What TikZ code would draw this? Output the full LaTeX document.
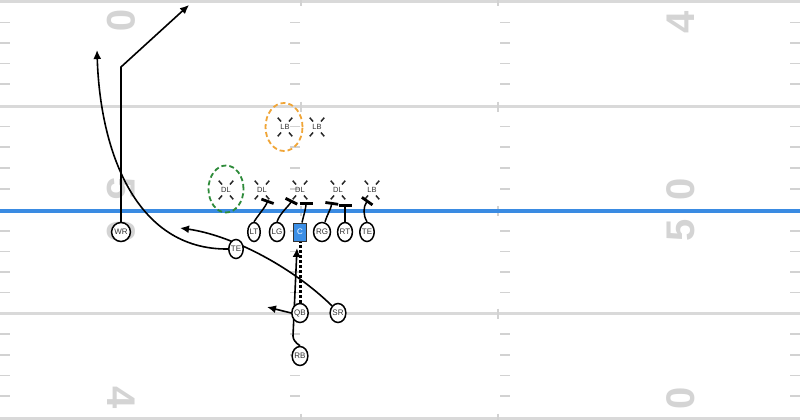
\documentclass[tikz,border=0pt]{standalone}
\usepackage{fontspec}
\setmainfont{Liberation Sans}
\usetikzlibrary{arrows.meta,shapes.geometric}
\definecolor{fieldgray}{HTML}{D9D9D9}
\definecolor{hashgray}{HTML}{D2D2D2}
\definecolor{numgray}{HTML}{D4D4D4}
\definecolor{losblue}{HTML}{3A8BE2}
\definecolor{cblue}{HTML}{3C8FE6}
\definecolor{ringgreen}{HTML}{2E8B3A}
\definecolor{ringorange}{HTML}{F0A537}
\pgfdeclarelayer{back}
\pgfdeclarelayer{mid}
\pgfsetlayers{back,mid,main}
\newcommand\dmark[4]{%
  \node[defl] (#1) at (#2,#3) {#4};
  \draw[xmk] ([shift={(-4,-5.5)}]#1.center) -- ++(-3.2,-3.8);
  \draw[xmk] ([shift={(4,-5.5)}]#1.center) -- ++(3.2,-3.8);
  \draw[xmk] ([shift={(-4,5.5)}]#1.center) -- ++(-3.2,3.8);
  \draw[xmk] ([shift={(4,5.5)}]#1.center) -- ++(3.2,3.8);
}
\begin{document}
\begin{tikzpicture}[x=1pt,y=-1pt,
  yard/.style={line width=3pt, draw=fieldgray},
  hashmk/.style={line width=1.8pt, draw=hashgray},
  numdig/.style={text=numgray, font=\fontsize{40}{40}\selectfont\bfseries, inner sep=0pt},
  offpl/.style={ellipse, draw=black, line width=1.5pt, fill=white, minimum width=12.5pt, minimum height=19pt, inner sep=0pt, font=\fontsize{8}{9}\selectfont, text=black!80},
  cpl/.style={rectangle, draw=black!80, fill=cblue, line width=0.8pt, minimum width=13pt, minimum height=18pt, inner sep=0pt, font=\fontsize{8}{9}\selectfont, text=white},
  defl/.style={inner sep=0pt, font=\fontsize{7.5}{9}\selectfont, text=black!80},
  xmk/.style={line width=1.5pt, draw=black!85},
  rte/.style={line width=1.6pt, draw=black, -{Latex[length=9pt,width=8pt]}},
  blk/.style={line width=1.5pt, draw=black, -{Bar[width=13pt,line width=2.8pt]}},
  dotline/.style={line width=3pt, draw=black, dash pattern=on 3pt off 2pt},
  ring/.style={ellipse, line width=1.8pt, dash pattern=on 5pt off 3pt, inner sep=0pt}
]
\useasboundingbox (0,0) rectangle (800,420);
\begin{pgfonlayer}{back}
\fill[white] (0,0) rectangle (800,420);
% yard lines
\draw[yard] (0,1.5) -- (800,1.5);
\draw[yard] (0,106.5) -- (800,106.5);
\draw[yard] (0,313.5) -- (800,313.5);
\draw[yard] (0,418.5) -- (800,418.5);
% hash marks
\foreach \hy in {22.5,43,63.5,84,126.5,147,168,189,231,251.5,272,292.5,334,355,375.5,396}{
  \draw[hashmk] (0,\hy) -- (10,\hy);
  \draw[hashmk] (290,\hy) -- (300,\hy);
  \draw[hashmk] (500,\hy) -- (510,\hy);
  \draw[hashmk] (790,\hy) -- (800,\hy);
}
\foreach \ty in {1.5,106.5,211,313.5,418.5}{
  \draw[hashmk] (301,\ty-5) -- (301,\ty+5);
  \draw[hashmk] (498,\ty-5) -- (498,\ty+5);
}
% line of scrimmage
\draw[line width=4.5pt, draw=losblue] (0,211) -- (800,211);
% field numbers
\node[numdig, rotate=-90] (nl1) at (121,21) {0};
\node[numdig, rotate=-90] (nl2) at (121,189) {5};
\node[numdig, rotate=-90] (nl3) at (121,232) {0};
\node[numdig, rotate=-90] (nl4) at (121,398) {4};
\node[numdig, rotate=90] (nr1) at (681,22) {4};
\node[numdig, rotate=90] (nr2) at (681,189) {0};
\node[numdig, rotate=90] (nr3) at (681,230) {5};
\node[numdig, rotate=90] (nr4) at (681,398) {0};
\end{pgfonlayer}

% offense
\node[offpl] (WR) at (121,232) {WR};
\node[offpl] (TEL) at (236,249) {TE};
\node[offpl] (LT) at (254,232) {LT};
\node[offpl] (LG) at (277,232) {LG};
\node[cpl] (C) at (300,232) {C};
\node[offpl] (RG) at (322,232) {RG};
\node[offpl] (RT) at (345,232) {RT};
\node[offpl] (TER) at (367,232) {TE};
\node[offpl] (QB) at (300,313) {QB};
\node[offpl] (SR) at (338,313) {SR};
\node[offpl] (RB) at (300,356) {RB};

% defense
\dmark{dl1}{226}{190}{DL}
\dmark{dl2}{262}{190}{DL}
\dmark{dl3}{300}{190}{DL}
\dmark{dl4}{338}{190}{DL}
\dmark{lb1}{372}{190}{LB}
\dmark{lb2}{285}{127}{LB}
\dmark{lb3}{317}{127}{LB}
\node[ring, draw=ringgreen, minimum width=35pt, minimum height=47pt] (gring) at (226,189) {};
\node[ring, draw=ringorange, minimum width=37pt, minimum height=48pt] (oring) at (284,127) {};

% routes
\coordinate (wrbrk) at (121,67);
\coordinate (wrend) at (189,5);
\coordinate (teend) at (97,50);
\coordinate (srend) at (180,228);
\coordinate (qbend) at (267,307);
\coordinate (rbbrk) at (293,336);
\coordinate (rbend) at (297,248);
\begin{pgfonlayer}{mid}
\draw[rte] (WR.north) -- (wrbrk) -- (wrend);
\draw[rte] (TEL.west) .. controls (135,250) and (100,150) .. (teend);
\draw[rte] (SR.north west) .. controls (290,265) and (230,235) .. (srend);
\draw[rte] (QB.west) -- (qbend);
\draw[dotline] (QB.north) -- (C.south);
\draw[rte] (RB.north) .. controls (296,343) and (293,340) .. (rbbrk) -- (rbend);
\end{pgfonlayer}

% blocks
\coordinate (b1) at (268,200);
\coordinate (b2) at (292,200);
\coordinate (b3) at (306,202);
\coordinate (b4) at (332,202);
\coordinate (b5) at (345,204);
\coordinate (b6) at (368,200);
\draw[blk] (LT.north) .. controls (259,214) and (265.5,207) .. (b1);
\draw[blk] (LG.north) .. controls (280,213) and (289,206) .. (b2);
\draw[blk] ([xshift=2pt]C.north) .. controls (304,214) and (306,208) .. (b3);
\draw[blk] ([xshift=3pt]RG.north) .. controls (327,215) and (331,209) .. (b4);
\draw[blk] (RT.north) -- (b5);
\draw[blk] (TER.north) .. controls (363,215) and (363,207) .. (b6);
\end{tikzpicture}
\end{document}
